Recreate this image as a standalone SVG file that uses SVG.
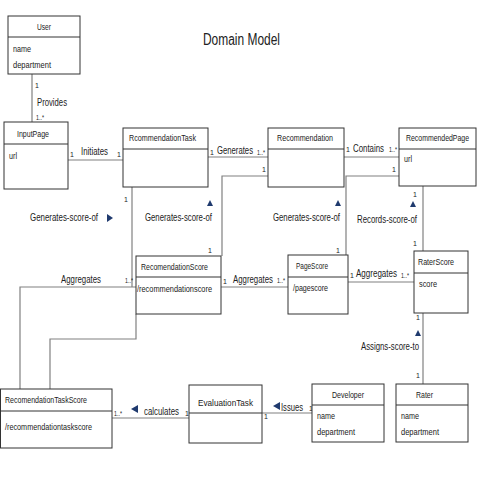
<svg xmlns="http://www.w3.org/2000/svg" width="480" height="480" viewBox="0 0 480 480">
<style>
.box{fill:#fff;stroke:#333;stroke-width:1}
.sep{stroke:#333;stroke-width:1}
text{font-family:"Liberation Sans",Arial,sans-serif;fill:#222}
.t{font-size:9px}
.lbl{font-size:10.5px}
.m{font-size:7px}
.ln{fill:none;stroke:#808080;stroke-width:1.2}
.tri{fill:#1f3a6e}
</style>
<rect width="480" height="480" fill="#fff"/>
<text x="203" y="45" font-size="16" textLength="77" lengthAdjust="spacingAndGlyphs" fill="#111">Domain Model</text>

<g id="connectors">
<path class="ln" d="M32,74V122"/>
<path class="ln" d="M68,160H123"/>
<path class="ln" d="M208,157H268"/>
<path class="ln" d="M344,157H399"/>
<path class="ln" d="M268,176H222V256"/>
<path class="ln" d="M399,176H346V255"/>
<path class="ln" d="M132,187V287"/>
<path class="ln" d="M136,287H20V389"/>
<path class="ln" d="M136,314V339H50V389"/>
<path class="ln" d="M221,287H288"/>
<path class="ln" d="M348,282H414"/>
<path class="ln" d="M423,186V251"/>
<path class="ln" d="M423,313V384"/>
<path class="ln" d="M112,418H189"/>
<path class="ln" d="M262,413H312"/>

<text class="m" x="35" y="88">1</text>
<text class="lbl" x="37" y="106" textLength="30" lengthAdjust="spacingAndGlyphs">Provides</text>
<text class="m" x="36" y="120" textLength="8" lengthAdjust="spacingAndGlyphs">1..*</text>

<text class="m" x="70" y="157">1</text>
<text class="lbl" x="81" y="155" textLength="27" lengthAdjust="spacingAndGlyphs">Initiates</text>
<text class="m" x="117" y="157">1</text>

<text class="m" x="210" y="155">1</text>
<text class="lbl" x="217" y="154" textLength="36" lengthAdjust="spacingAndGlyphs">Generates</text>
<text class="m" x="257" y="155" textLength="8" lengthAdjust="spacingAndGlyphs">1..*</text>

<text class="m" x="346" y="152">1</text>
<text class="lbl" x="353" y="152" textLength="31" lengthAdjust="spacingAndGlyphs">Contains</text>
<text class="m" x="389" y="152" textLength="8" lengthAdjust="spacingAndGlyphs">1..*</text>

<text class="m" x="262" y="172">1</text>
<text class="m" x="392" y="172">1</text>

<text class="m" x="124" y="202">1</text>
<text class="lbl" x="30" y="221" textLength="68" lengthAdjust="spacingAndGlyphs">Generates-score-of</text>
<path class="tri" d="M107,214L113,218L107,222Z"/>

<text class="lbl" x="145" y="221" textLength="67" lengthAdjust="spacingAndGlyphs">Generates-score-of</text>
<path class="tri" d="M210,200L213,206L207,206Z"/>
<text class="lbl" x="273" y="221" textLength="67" lengthAdjust="spacingAndGlyphs">Generates-score-of</text>
<path class="tri" d="M338,200L341,206L335,206Z"/>

<text class="m" x="208" y="253">1</text>
<text class="m" x="336" y="253">1</text>

<text class="m" x="413" y="197">1</text>
<path class="tri" d="M413,201L416,207L410,207Z"/>
<text class="lbl" x="357" y="223" textLength="60" lengthAdjust="spacingAndGlyphs">Records-score-of</text>
<text class="m" x="413" y="246">1</text>

<text class="lbl" x="61" y="283" textLength="40" lengthAdjust="spacingAndGlyphs">Aggregates</text>
<text class="m" x="125" y="283" textLength="8" lengthAdjust="spacingAndGlyphs">1..*</text>
<text class="m" x="223" y="284">1</text>
<text class="lbl" x="233" y="283" textLength="40" lengthAdjust="spacingAndGlyphs">Aggregates</text>
<text class="m" x="277" y="283" textLength="8" lengthAdjust="spacingAndGlyphs">1..*</text>
<text class="m" x="350" y="278">1</text>
<text class="lbl" x="356" y="277" textLength="41" lengthAdjust="spacingAndGlyphs">Aggregates</text>
<text class="m" x="401" y="278" textLength="8" lengthAdjust="spacingAndGlyphs">1..*</text>

<text class="m" x="416" y="320">1</text>
<path class="tri" d="M418,330L421,336L415,336Z"/>
<text class="lbl" x="361" y="350" textLength="58" lengthAdjust="spacingAndGlyphs">Assigns-score-to</text>
<text class="m" x="416" y="378">1</text>

<text class="m" x="114" y="416" textLength="8" lengthAdjust="spacingAndGlyphs">1..*</text>
<path class="tri" d="M131,409L138,405L138,413Z"/>
<text class="lbl" x="144" y="415" textLength="35" lengthAdjust="spacingAndGlyphs">calculates</text>
<text class="m" x="185" y="416">1</text>

<text class="m" x="264" y="419">1</text>
<path class="tri" d="M273,406L280,402L280,410Z"/>
<text class="lbl" x="281" y="411" textLength="22" lengthAdjust="spacingAndGlyphs">Issues</text>
<text class="m" x="309" y="411">1</text>
</g>

<g id="User">
<rect class="box" x="8" y="16" width="72" height="58"/>
<line class="sep" x1="8" y1="37" x2="80" y2="37"/>
<text class="t" x="37" y="30" textLength="14" lengthAdjust="spacingAndGlyphs">User</text>
<text class="t" x="13" y="52" textLength="18" lengthAdjust="spacingAndGlyphs">name</text>
<text class="t" x="13" y="68" textLength="38" lengthAdjust="spacingAndGlyphs">department</text>
</g>
<g id="InputPage">
<rect class="box" x="4" y="122" width="64" height="67"/>
<line class="sep" x1="4" y1="144" x2="68" y2="144"/>
<text class="t" x="17" y="137" textLength="32" lengthAdjust="spacingAndGlyphs">InputPage</text>
<text class="t" x="9" y="159" textLength="8" lengthAdjust="spacingAndGlyphs">url</text>
</g>
<g id="RcommendationTask">
<rect class="box" x="123" y="128" width="85" height="59"/>
<line class="sep" x1="123" y1="149" x2="208" y2="149"/>
<text class="t" x="129" y="141" textLength="67" lengthAdjust="spacingAndGlyphs">RcommendationTask</text>
</g>
<g id="Recommendation">
<rect class="box" x="268" y="128" width="76" height="59"/>
<line class="sep" x1="268" y1="149" x2="344" y2="149"/>
<text class="t" x="277" y="141" textLength="56" lengthAdjust="spacingAndGlyphs">Recommendation</text>
</g>
<g id="RecommendedPage">
<rect class="box" x="399" y="128" width="77" height="58"/>
<line class="sep" x1="399" y1="149" x2="476" y2="149"/>
<text class="t" x="406" y="141" textLength="63" lengthAdjust="spacingAndGlyphs">RecommendedPage</text>
<text class="t" x="404" y="162" textLength="8" lengthAdjust="spacingAndGlyphs">url</text>
</g>
<g id="RecomendationScore">
<rect class="box" x="136" y="256" width="85" height="58"/>
<line class="sep" x1="136" y1="277" x2="221" y2="277"/>
<text class="t" x="141" y="270" textLength="67" lengthAdjust="spacingAndGlyphs">RecomendationScore</text>
<text class="t" x="137" y="292" textLength="75" lengthAdjust="spacingAndGlyphs">/recommendationscore</text>
</g>
<g id="PageScore">
<rect class="box" x="288" y="255" width="60" height="59"/>
<line class="sep" x1="288" y1="277" x2="348" y2="277"/>
<text class="t" x="296" y="269" textLength="32" lengthAdjust="spacingAndGlyphs">PageScore</text>
<text class="t" x="293" y="291" textLength="35" lengthAdjust="spacingAndGlyphs">/pagescore</text>
</g>
<g id="RaterScore">
<rect class="box" x="414" y="251" width="54" height="62"/>
<line class="sep" x1="414" y1="273" x2="468" y2="273"/>
<text class="t" x="418" y="265" textLength="36" lengthAdjust="spacingAndGlyphs">RaterScore</text>
<text class="t" x="419" y="287" textLength="18" lengthAdjust="spacingAndGlyphs">score</text>
</g>
<g id="RecomendationTaskScore">
<rect class="box" x="0.5" y="389" width="111.5" height="59"/>
<line class="sep" x1="0" y1="411" x2="112" y2="411"/>
<text class="t" x="5" y="403" textLength="82" lengthAdjust="spacingAndGlyphs">RecomendationTaskScore</text>
<text class="t" x="5" y="430" textLength="87" lengthAdjust="spacingAndGlyphs">/recommendationtaskscore</text>
</g>
<g id="EvaluationTask">
<rect class="box" x="189" y="385" width="73" height="58"/>
<line class="sep" x1="189" y1="413" x2="262" y2="413"/>
<text class="t" x="198" y="406" textLength="55" lengthAdjust="spacingAndGlyphs">EvaluationTask</text>
</g>
<g id="Developer">
<rect class="box" x="312" y="384" width="72" height="58"/>
<line class="sep" x1="312" y1="405" x2="384" y2="405"/>
<text class="t" x="332" y="398" textLength="32" lengthAdjust="spacingAndGlyphs">Developer</text>
<text class="t" x="317" y="419" textLength="18" lengthAdjust="spacingAndGlyphs">name</text>
<text class="t" x="317" y="435" textLength="38" lengthAdjust="spacingAndGlyphs">department</text>
</g>
<g id="Rater">
<rect class="box" x="396" y="384" width="72" height="58"/>
<line class="sep" x1="396" y1="405" x2="468" y2="405"/>
<text class="t" x="416" y="398" textLength="17" lengthAdjust="spacingAndGlyphs">Rater</text>
<text class="t" x="401" y="419" textLength="18" lengthAdjust="spacingAndGlyphs">name</text>
<text class="t" x="401" y="435" textLength="38" lengthAdjust="spacingAndGlyphs">department</text>
</g>
</svg>
